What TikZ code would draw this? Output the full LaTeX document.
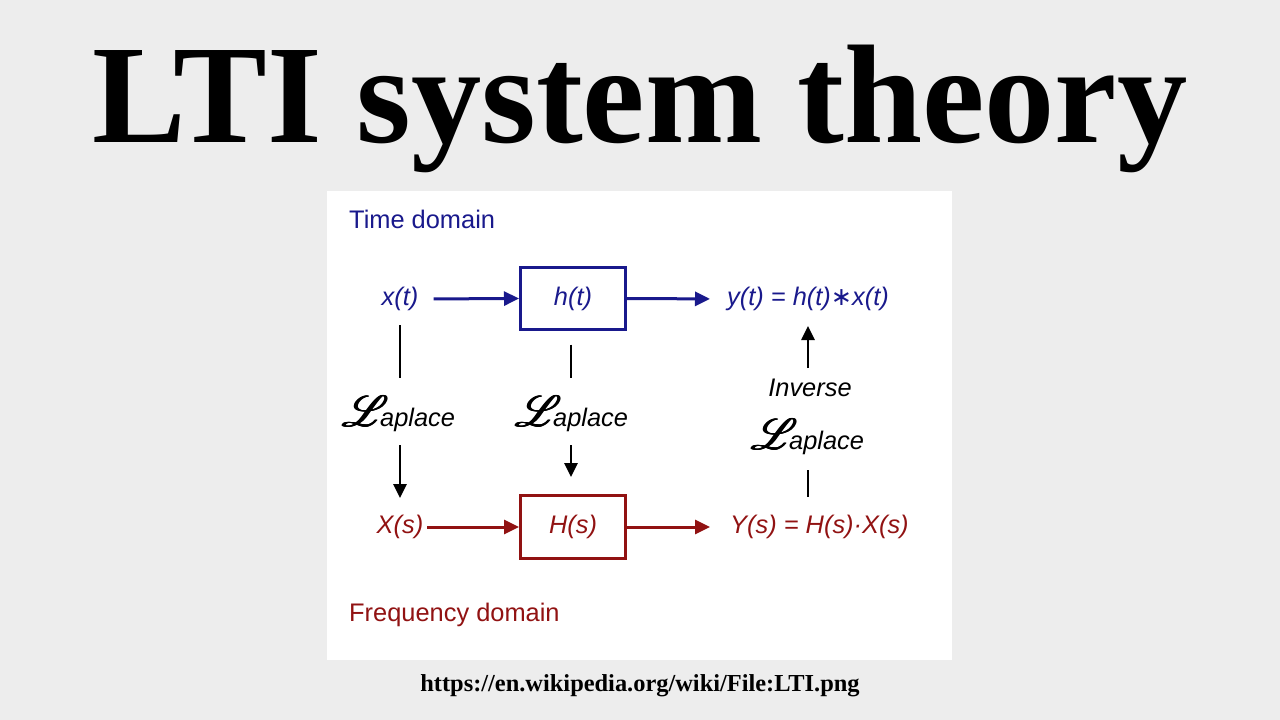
\documentclass[tikz,border=0pt]{standalone}
\usepackage{fontspec}
\setmainfont{Liberation Serif}
\setsansfont{Liberation Sans}
\newfontfamily\dejavu{DejaVu Sans}
\usepackage{graphicx}
\usepackage{mathrsfs}
\usetikzlibrary{arrows.meta}
\definecolor{bgc}{RGB}{237,237,237}
\definecolor{tblue}{RGB}{25,25,140}
\definecolor{fred}{RGB}{145,18,18}
\newcommand\oneL{\scalebox{1.75}{$\mathscr{L}$}}
\newcommand\scrL{\rlap{\oneL}\kern0.7bp\rlap{\oneL}\kern0.7bp\rlap{\raisebox{0.5bp}{\oneL}}\kern0.5bp\oneL}
\newcommand\laplab{\scrL\kern-9bp\textit{aplace}}
\begin{document}
\begin{tikzpicture}[x=1bp,y=-1bp,
  lbl/.style={font=\sffamily\fontsize{25.5}{28}\selectfont, inner sep=0pt},
  sysbox/.style={draw, line width=3bp, minimum width=105bp, minimum height=62bp, inner sep=0pt},
  conn/.style={line width=3bp},
  arr/.style={conn, -{Triangle[length=15bp,width=14bp]}},
  karr/.style={line width=2.6bp, -{Triangle[length=14bp,width=13bp]}},
  kline/.style={line width=2.6bp}
]
\useasboundingbox (0,0) rectangle (1280,720);
\fill[bgc] (0,0) rectangle (1280,720);
\fill[white] (327,191) rectangle (952,660);

% title and source
\node[anchor=base, inner sep=0pt, font=\bfseries\fontsize{141}{142}\selectfont] (title) at (640,143) {LTI system theory};
\node[anchor=base, inner sep=0pt, font=\bfseries\fontsize{24.5}{26}\selectfont] (src) at (640,691) {https://en.wikipedia.org/wiki/File:LTI.png};

% domain labels
\node[lbl, text=tblue, anchor=base west] (td) at (349,229) {Time domain};
\node[lbl, text=fred, anchor=base west] (fd) at (349,621) {Frequency domain};

% time row
\node[lbl, text=tblue] (xt) at (400,299) {\itshape x(t)};
\node[sysbox, draw=tblue, text=tblue, font=\sffamily\fontsize{25.5}{28}\selectfont] (ht) at (573,298.5) {\itshape h(t)};
\node[lbl, text=tblue, anchor=west] (yt) at (727,299) {\itshape y(t) = h(t){\dejavu\upshape ∗}x(t)};

% frequency row
\node[lbl, text=fred] (Xs) at (400,527) {\itshape X(s)};
\node[sysbox, draw=fred, text=fred, font=\sffamily\fontsize{25.5}{28}\selectfont, minimum height=63bp] (Hs) at (573,527) {\itshape H(s)};
\node[lbl, text=fred, anchor=west] (Ys) at (730,527) {\itshape Y(s) = H(s)·X(s)};

% Laplace labels
\node[lbl] (L1) at (398,414) {\laplab};
\node[lbl] (L2) at (571,414) {\laplab};
\node[lbl] (inv) at (810,388) {\itshape Inverse};
\node[lbl] (L3) at (807,437) {\laplab};

% horizontal connectors
\draw[arr, tblue, shorten <=15bp] (xt.east) -- (ht.west);
\draw[arr, tblue, shorten >=17bp] (ht.east) -- (yt.west);
\draw[arr, fred, shorten <=4bp] (Xs.east) -- (Hs.west);
\draw[arr, fred, shorten >=20bp] (Hs.east) -- (Ys.west);

% vertical connectors
\draw[kline, shorten <=26bp, shorten >=36bp] (xt.center) -- (L1.center -| xt.center);
\draw[karr, shorten <=31bp, shorten >=29bp] (L1.center -| xt.center) -- (Xs.center);
\draw[kline, shorten <=46bp, shorten >=36bp] (ht.center -| L2.center) -- (L2.center);
\draw[karr, shorten <=31bp, shorten >=50bp] (L2.center) -- (Hs.center -| L2.center);
\draw[kline, shorten <=33bp, shorten >=30bp] (L3.center -| 808,0) -- (Ys.center -| 808,0);
\draw[karr, shorten <=20bp, shorten >=27bp] (inv.center -| 808,0) -- (yt.center -| 808,0);
\end{tikzpicture}
\end{document}
